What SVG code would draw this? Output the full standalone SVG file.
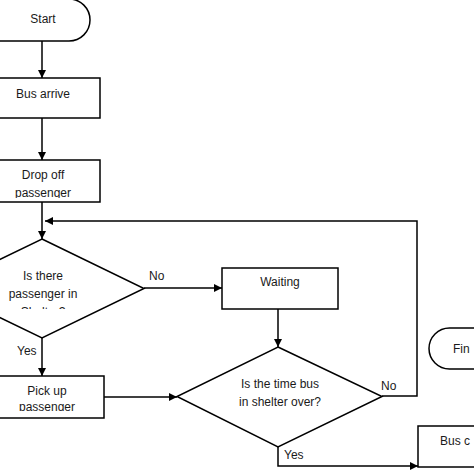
<svg xmlns="http://www.w3.org/2000/svg" width="474" height="474" viewBox="0 0 474 474">
<style>
.s{fill:#fff;stroke:#000;stroke-width:1.5}
.t{font-family:"Liberation Sans",Arial,sans-serif;font-size:12px;fill:#1a1a1a;text-anchor:middle}
.l{font-family:"Liberation Sans",Arial,sans-serif;font-size:12px;fill:#1a1a1a}
.c{fill:none;stroke:#000;stroke-width:1.5}
</style>
<defs>
<marker id="a" viewBox="0 0 10 10" refX="10" refY="5" markerWidth="8" markerHeight="8" markerUnits="userSpaceOnUse" orient="auto">
<path d="M0,0L10,5L0,10z" fill="#000"/>
</marker>
<clipPath id="c1"><rect x="-10" y="160" width="120" height="38"/></clipPath>
<clipPath id="c2"><rect x="-10" y="376" width="120" height="35"/></clipPath>
<clipPath id="c3"><rect x="-70" y="240" width="220" height="69"/></clipPath>
</defs>
<rect width="474" height="474" fill="#fff"/>
<g id="connectors">
<path class="c" d="M42,41V78" marker-end="url(#a)"/>
<path class="c" d="M42,118V160" marker-end="url(#a)"/>
<path class="c" d="M42,202V239" marker-end="url(#a)"/>
<path class="c" d="M144,288H222" marker-end="url(#a)"/>
<path class="c" d="M42,338V376" marker-end="url(#a)"/>
<path class="c" d="M278,309V347" marker-end="url(#a)"/>
<path class="c" d="M104,397H177" marker-end="url(#a)"/>
<path class="c" d="M382,396H417V221H45" marker-end="url(#a)"/>
<path class="c" d="M278,447V466H418" marker-end="url(#a)"/>
<text class="l" x="149" y="280">No</text>
<text class="l" x="17" y="355">Yes</text>
<text class="l" x="381" y="390">No</text>
<text class="l" x="284" y="459">Yes</text>
</g>
<g id="start">
<rect class="s" x="-40" y="-1" width="130" height="42" rx="21"/>
<text class="t" x="43" y="23">Start</text>
</g>
<g id="bus-arrive">
<rect class="s" x="-10" y="78" width="110" height="40"/>
<text class="t" x="43" y="98">Bus arrive</text>
</g>
<g id="drop-off">
<rect class="s" x="-10" y="160" width="110" height="42"/>
<g clip-path="url(#c1)">
<text class="t" x="43" y="179">Drop off</text>
<text class="t" x="43" y="197">passenger</text>
</g>
</g>
<g id="is-there">
<path class="s" d="M42,239L144,288.5L42,338L-60,288.5z"/>
<g clip-path="url(#c3)">
<text class="t" x="43" y="280">Is there</text>
<text class="t" x="43" y="298">passenger in</text>
<text class="t" x="43" y="316">Shelter?</text>
</g>
</g>
<g id="waiting">
<rect class="s" x="222" y="268" width="116" height="41"/>
<text class="t" x="280" y="286">Waiting</text>
</g>
<g id="pick-up">
<rect class="s" x="-10" y="376" width="114" height="42"/>
<g clip-path="url(#c2)">
<text class="t" x="47" y="395">Pick up</text>
<text class="t" x="47" y="411">passenger</text>
</g>
</g>
<g id="time-over">
<path class="s" d="M278,347L382,396.5L278,447L177,396.5z"/>
<text class="t" x="280" y="388">Is the time bus</text>
<text class="t" x="280" y="406">in shelter over?</text>
</g>
<g id="finish">
<rect class="s" x="429" y="328" width="80" height="41" rx="20.5"/>
<text class="l" x="453" y="353">Fin</text>
</g>
<g id="bus-c">
<rect class="s" x="418" y="426" width="70" height="41"/>
<text class="l" x="440" y="445">Bus c</text>
</g>
</svg>
